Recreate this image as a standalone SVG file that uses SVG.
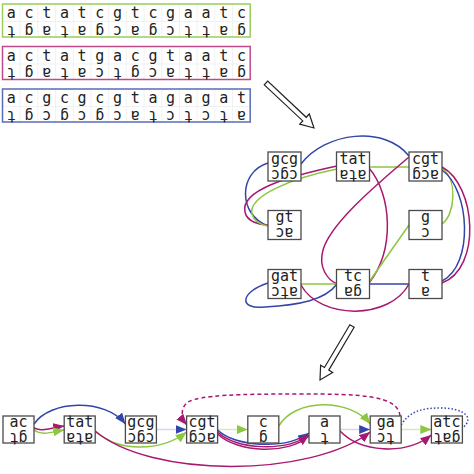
<svg xmlns="http://www.w3.org/2000/svg" width="474" height="474" viewBox="0 0 474 474">
<style>
  .seq{font-family:"DejaVu Sans Mono","Liberation Mono",monospace;font-size:15px;fill:#222;text-anchor:middle}
  .lbl{font-family:"DejaVu Sans Mono","Liberation Mono",monospace;font-size:15px;fill:#222;text-anchor:middle}
  .grid{stroke:#ebebeb;stroke-width:0.7;fill:none}
  .node{fill:#fff;stroke:#4a4a4a;stroke-width:1.3}
  .e{fill:none;stroke-width:1.5}
  .g{stroke:#8dc63f}
  .b{stroke:#3344aa}
  .m{stroke:#a8186e}
  .pb{stroke:#d3d7e6}
  .pg{stroke:#d6e8c2}
  .big{fill:#fff;stroke:#222;stroke-width:1.2;stroke-linejoin:miter}
</style>
<defs>
  <marker id="ag" markerUnits="userSpaceOnUse" markerWidth="11" markerHeight="9" viewBox="0 0 11 9" refX="11" refY="4.5" orient="auto"><path d="M0,0 L11,4.5 L0,9 z" fill="#8dc63f"/></marker>
  <marker id="ab" markerUnits="userSpaceOnUse" markerWidth="11" markerHeight="9" viewBox="0 0 11 9" refX="11" refY="4.5" orient="auto"><path d="M0,0 L11,4.5 L0,9 z" fill="#3344aa"/></marker>
  <marker id="am" markerUnits="userSpaceOnUse" markerWidth="11" markerHeight="9" viewBox="0 0 11 9" refX="11" refY="4.5" orient="auto"><path d="M0,0 L11,4.5 L0,9 z" fill="#a8186e"/></marker>
</defs>
<rect width="474" height="474" fill="#fff"/>

<!-- sequences -->
<g id="seq1">
  <path class="grid" d="M20.15,4V37M37.85,4V37M55.55,4V37M73.25,4V37M90.95,4V37M108.65,4V37M126.35,4V37M144.05,4V37M161.75,4V37M179.45,4V37M197.15,4V37M214.85,4V37M232.55,4V37M2.5,21.5H250.2"/>
  <rect x="2.5" y="4" width="247.7" height="33" fill="none" stroke="#9acd5a" stroke-width="1.5"/>
  <text class="seq" x="11.3 29 46.7 64.4 82.1 99.8 117.5 135.2 152.9 170.6 188.3 206 223.7 241.4" y="18.3">actatcgtcgaatc</text>
  <text class="seq" x="11.3 29 46.7 64.4 82.1 99.8 117.5 135.2 152.9 170.6 188.3 206 223.7 241.4" y="18.3" transform="rotate(180 126.35 21.9)">gattcgacgatagt</text>
</g>
<g id="seq2">
  <path class="grid" d="M20.15,46.5V79.5M37.85,46.5V79.5M55.55,46.5V79.5M73.25,46.5V79.5M90.95,46.5V79.5M108.65,46.5V79.5M126.35,46.5V79.5M144.05,46.5V79.5M161.75,46.5V79.5M179.45,46.5V79.5M197.15,46.5V79.5M214.85,46.5V79.5M232.55,46.5V79.5M2.5,64H250.2"/>
  <rect x="2.5" y="46.5" width="247.7" height="33" fill="none" stroke="#c0498a" stroke-width="1.5"/>
  <text class="seq" x="11.3 29 46.7 64.4 82.1 99.8 117.5 135.2 152.9 170.6 188.3 206 223.7 241.4" y="60.8">actatgacgtaatc</text>
  <text class="seq" x="11.3 29 46.7 64.4 82.1 99.8 117.5 135.2 152.9 170.6 188.3 206 223.7 241.4" y="60.8" transform="rotate(180 126.35 64.4)">gattacgtcatagt</text>
</g>
<g id="seq3">
  <path class="grid" d="M20.15,89V122M37.85,89V122M55.55,89V122M73.25,89V122M90.95,89V122M108.65,89V122M126.35,89V122M144.05,89V122M161.75,89V122M179.45,89V122M197.15,89V122M214.85,89V122M232.55,89V122M2.5,106.5H250.2"/>
  <rect x="2.5" y="89" width="247.7" height="33" fill="none" stroke="#5a6bb8" stroke-width="1.5"/>
  <text class="seq" x="11.3 29 46.7 64.4 82.1 99.8 117.5 135.2 152.9 170.6 188.3 206 223.7 241.4" y="103.3">acgcgcgtagagat</text>
  <text class="seq" x="11.3 29 46.7 64.4 82.1 99.8 117.5 135.2 152.9 170.6 188.3 206 223.7 241.4" y="103.3" transform="rotate(180 126.35 106.9)">atctctacgcgcgt</text>
</g>

<!-- big arrows -->
<polygon id="arrow1" class="big" points="264.29,84.82 302.79,120.92 299.71,124.2 314,128 309.29,114 306.21,117.28 267.71,81.18"/>
<polygon id="arrow2" class="big" points="349.85,324.73 324.48,367.55 320.61,365.25 320,380 332.65,372.39 328.78,370.09 354.15,327.27"/>

<!-- graph connectors -->
<g id="graph-edges">
  <path class="e b" d="M301,164 C325,132 385,125 409,156"/>
  <path class="e b" d="M268,163 C238,172 238,215 268,226"/>
  <path class="e m" d="M337,166 C290,176 240,190 245,212 C247,222 260,225 268,225"/>
  <path class="e g" d="M337,169 C292,178 248,196 252,214 C254,222 262,225 268,226"/>
  <path class="e g" d="M369,167 L409,167"/>
  <path class="e m" d="M409,157 C370,190 330,225 323,250 C318,268 328,280 337,284"/>
  <path class="e m" d="M369,168 C392,195 395,250 369,283"/>
  <path class="e g" d="M442,168 C458,180 455,215 442,224"/>
  <path class="e g" d="M409,225 L369,282"/>
  <path class="e b" d="M442,170 C470,190 474,265 442,281"/>
  <path class="e m" d="M442,167 C476,185 482,268 442,283"/>
  <path class="e b" d="M369,284 L409,284"/>
  <path class="e g" d="M301,284 L337,284"/>
  <path class="e m" d="M301,285 C320,320 390,320 409,284"/>
  <path class="e b" d="M268,283 C240,292 238,310 265,307 C300,305 325,300 337,284"/>
</g>

<!-- graph nodes -->
<g id="g-gcg"><rect class="node" x="268" y="152" width="33" height="29"/><text class="lbl" x="284.5" y="163.5">gcg</text><text class="lbl" x="284.5" y="163.5" transform="rotate(180 284.5 166.5)">cgc</text></g>
<g id="g-tat"><rect class="node" x="336.5" y="152" width="33" height="29"/><text class="lbl" x="353" y="163.5">tat</text><text class="lbl" x="353" y="163.5" transform="rotate(180 353 166.5)">ata</text></g>
<g id="g-cgt"><rect class="node" x="409" y="152" width="33" height="29"/><text class="lbl" x="425.5" y="163.5">cgt</text><text class="lbl" x="425.5" y="163.5" transform="rotate(180 425.5 166.5)">acg</text></g>
<g id="g-gt"><rect class="node" x="268" y="210.5" width="33" height="29"/><text class="lbl" x="284.5" y="222">gt</text><text class="lbl" x="284.5" y="222" transform="rotate(180 284.5 225)">ac</text></g>
<g id="g-g"><rect class="node" x="409" y="210.5" width="33" height="29"/><text class="lbl" x="425.5" y="222">g</text><text class="lbl" x="425.5" y="222" transform="rotate(180 425.5 225)">c</text></g>
<g id="g-gat"><rect class="node" x="268" y="269.5" width="33" height="29"/><text class="lbl" x="284.5" y="281">gat</text><text class="lbl" x="284.5" y="281" transform="rotate(180 284.5 284)">atc</text></g>
<g id="g-tc"><rect class="node" x="336.5" y="269.5" width="33" height="29"/><text class="lbl" x="353" y="281">tc</text><text class="lbl" x="353" y="281" transform="rotate(180 353 284)">ga</text></g>
<g id="g-t"><rect class="node" x="409" y="269.5" width="33" height="29"/><text class="lbl" x="425.5" y="281">t</text><text class="lbl" x="425.5" y="281" transform="rotate(180 425.5 284)">a</text></g>

<!-- path connectors -->
<g id="path-edges">
  <path class="e pb" d="M156.4,429.5 L186.6,429.5" marker-end="url(#ab)"/>
  <path class="e pg" d="M217.6,429.5 L247.8,429.5" marker-end="url(#ag)"/>
  <path class="e pb" d="M340,429.5 L370.2,429.5" marker-end="url(#ab)"/>
  <path class="e pg" d="M401.2,429.5 L431.4,429.5" marker-end="url(#ag)"/>
  <path class="e m" d="M34,428 C42,432 50,428 64.2,426" marker-end="url(#am)"/>
  <path class="e g" d="M34,430 C42,436 52,432 64.2,430" marker-end="url(#ag)"/>
  <path class="e b" d="M34,424 C50,400 105,398 125.4,424" marker-end="url(#ab)"/>
  <path class="e g" d="M95.2,432 C110,442 120,447 140,447 C160,447 175,441 186.6,432" marker-end="url(#ag)"/>
  <path class="e m" d="M95.2,431 C150,478 310,478 370.2,432" marker-end="url(#am)"/>
  <path class="e b" d="M217.6,430 C235,447 285,450 309,433" marker-end="url(#ab)"/>
  <path class="e m" d="M217.6,432 C236,450 286,452 309,435" marker-end="url(#am)"/>
  <path class="e m" d="M217.6,434 C238,453 288,455 309,436"/>
  <path class="e g" d="M278.8,426 C295,398 350,398 370.2,424" marker-end="url(#ag)"/>
  <path class="e m" d="M340,431 C360,452 405,456 431.4,435" marker-end="url(#am)"/>
  <path class="e m" stroke-dasharray="4,3" d="M400,416 C398,395 360,394 300,394 C240,394 200,395 188,402 C180,408 181,418 187,425" marker-end="url(#am)"/>
  <path class="e b" stroke-dasharray="1.5,2" d="M401.2,425 C410,410 425,408 440,408 C465,408 475,418 462.4,428"/>
</g>

<!-- path nodes -->
<g id="p-ac"><rect class="node" x="3" y="416" width="31" height="27"/><text class="lbl" x="18.5" y="426.5">ac</text><text class="lbl" x="18.5" y="426.5" transform="rotate(180 18.5 429.5)">gt</text></g>
<g id="p-tat"><rect class="node" x="64.2" y="416" width="31" height="27"/><text class="lbl" x="79.7" y="426.5">tat</text><text class="lbl" x="79.7" y="426.5" transform="rotate(180 79.7 429.5)">ata</text></g>
<g id="p-gcg"><rect class="node" x="125.4" y="416" width="31" height="27"/><text class="lbl" x="140.9" y="426.5">gcg</text><text class="lbl" x="140.9" y="426.5" transform="rotate(180 140.9 429.5)">cgc</text></g>
<g id="p-cgt"><rect class="node" x="186.6" y="416" width="31" height="27"/><text class="lbl" x="202.1" y="426.5">cgt</text><text class="lbl" x="202.1" y="426.5" transform="rotate(180 202.1 429.5)">acg</text></g>
<g id="p-c"><rect class="node" x="247.8" y="416" width="31" height="27"/><text class="lbl" x="263.3" y="426.5">c</text><text class="lbl" x="263.3" y="426.5" transform="rotate(180 263.3 429.5)">g</text></g>
<g id="p-a"><rect class="node" x="309" y="416" width="31" height="27"/><text class="lbl" x="324.5" y="426.5">a</text><text class="lbl" x="324.5" y="426.5" transform="rotate(180 324.5 429.5)">t</text></g>
<g id="p-ga"><rect class="node" x="370.2" y="416" width="31" height="27"/><text class="lbl" x="385.7" y="426.5">ga</text><text class="lbl" x="385.7" y="426.5" transform="rotate(180 385.7 429.5)">tc</text></g>
<g id="p-atc"><rect class="node" x="431.4" y="416" width="31" height="27"/><text class="lbl" x="446.9" y="426.5">atc</text><text class="lbl" x="446.9" y="426.5" transform="rotate(180 446.9 429.5)">gat</text></g>
</svg>
